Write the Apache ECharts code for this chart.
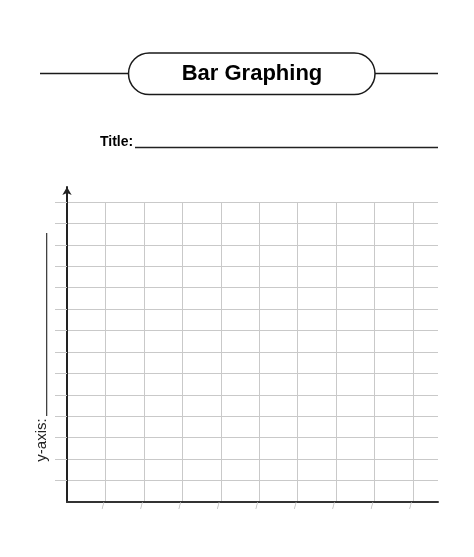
<!DOCTYPE html>
<html>
<head>
<meta charset="utf-8">
<script src="https://cdn.jsdelivr.net/npm/echarts@6/dist/echarts.min.js"></script>
<style>
  html, body { margin: 0; padding: 0; background: #ffffff; }
  #chart { width: 474px; height: 557px; }
</style>
</head>
<body>
<div id="chart"></div>
<script>
// Blank bar-graphing worksheet: no bars are filled in yet.
const categories = [];          // no category names written on the sheet
const values = [];              // no bar values written on the sheet
const columnTickMarks = [1, 2, 3, 4, 5, 6, 7, 8, 9]; // small slash marks under the x-axis
const columnSpan = 9.65;        // columns visible (last one is partial)
const rowCount = 14;            // horizontal rows of the grid
const headerText = 'Bar Graphing';
const titleLabel = 'Title:';
const yAxisLabel = 'y-axis:';

const FONT = '"Liberation Sans", Arial, sans-serif';
const GRID_GRAY = '#c9c9c9';
const INK = '#1a1a1a';

const chart = echarts.init(document.getElementById('chart'), null, { renderer: 'canvas' });

const rowPx = (502 - 202) / rowCount;

chart.setOption({
  animation: false,
  backgroundColor: '#ffffff',
  grid: [
    // main plotting grid (vertical lines + x-axis)
    { left: 67, right: 36, top: 202, bottom: 55 },
    // horizontal rows with left-extending ticks (rows 1..14)
    { left: 67, right: 36, top: 202, bottom: 55 + rowPx },
    // y-axis line with arrow
    { left: 67, right: 36, top: 187, bottom: 55 }
  ],
  xAxis: [
    {
      gridIndex: 0, type: 'value', min: 0, max: columnSpan, interval: 1,
      axisLine: { show: true, lineStyle: { color: '#333', width: 2 } },
      axisTick: { show: false },
      axisLabel: {
        show: true, margin: 0, color: '#bdbdbd', fontSize: 9, fontFamily: FONT,
        padding: [0, 5, 0, 0],
        formatter: v => (columnTickMarks.indexOf(v) >= 0 ? '/' : '')
      },
      splitLine: { show: true, showMinLine: false, showMaxLine: false,
                   lineStyle: { color: GRID_GRAY, width: 1 } }
    },
    { gridIndex: 1, type: 'value', min: 0, max: columnSpan, show: false },
    { gridIndex: 2, type: 'value', min: 0, max: columnSpan, show: false }
  ],
  yAxis: [
    { gridIndex: 0, type: 'value', min: 0, max: rowCount, interval: 1, show: false },
    {
      gridIndex: 1, type: 'value', min: 1, max: rowCount, interval: 1,
      axisLine: { show: false },
      axisTick: { show: true, length: 12, lineStyle: { color: GRID_GRAY, width: 1 } },
      axisLabel: { show: false },
      splitLine: { show: true, showMinLine: true, showMaxLine: true,
                   lineStyle: { color: GRID_GRAY, width: 1 } }
    },
    {
      gridIndex: 2, type: 'value', min: 0, max: 1,
      axisLine: { show: true, symbol: ['none', 'arrow'], symbolSize: [7, 8],
                  lineStyle: { color: '#222', width: 2 } },
      axisTick: { show: false },
      axisLabel: { show: false },
      splitLine: { show: false }
    }
  ],
  series: [
    {
      type: 'bar', xAxisIndex: 0, yAxisIndex: 0,
      data: values.map((v, i) => [i + 0.5, v]),
      name: categories.join(',')
    }
  ],
  graphic: [
    // header rule and pill
    { type: 'line', shape: { x1: 40, y1: 73.5, x2: 128.5, y2: 73.5 },
      style: { stroke: INK, lineWidth: 1.4 } },
    { type: 'line', shape: { x1: 375, y1: 73.5, x2: 438, y2: 73.5 },
      style: { stroke: INK, lineWidth: 1.4 } },
    { type: 'rect', shape: { x: 128.5, y: 53, width: 246.5, height: 41.5, r: 21 },
      style: { fill: '#ffffff', stroke: INK, lineWidth: 1.5 } },
    { type: 'text', x: 252, y: 74,
      style: { text: headerText, font: 'bold 22px ' + FONT, fill: '#000',
               textAlign: 'center', textVerticalAlign: 'middle' } },
    // Title line
    { type: 'text', x: 100, y: 142,
      style: { text: titleLabel, font: 'bold 14px ' + FONT, fill: '#000',
               textAlign: 'left', textVerticalAlign: 'middle' } },
    { type: 'line', shape: { x1: 135, y1: 147.5, x2: 438, y2: 147.5 },
      style: { stroke: '#222', lineWidth: 1.3 } },
    // y-axis name with blank line
    { type: 'text', x: 41.5, y: 440, rotation: Math.PI / 2,
      style: { text: yAxisLabel, font: '15px ' + FONT, fill: '#222',
               textAlign: 'center', textVerticalAlign: 'middle' } },
    { type: 'line', shape: { x1: 46.7, y1: 233, x2: 46.7, y2: 416 },
      style: { stroke: '#222', lineWidth: 1.1 } }
  ]
});
</script>
</body>
</html>
